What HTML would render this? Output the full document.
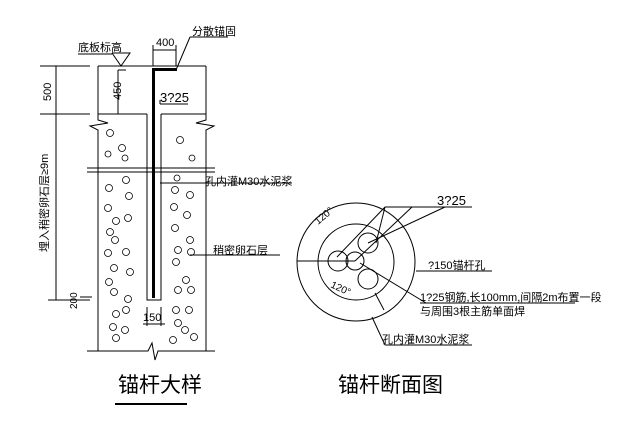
<!DOCTYPE html>
<html><head><meta charset="utf-8"><style>
html,body{margin:0;padding:0;background:#fff;}
svg{display:block;}
text{font-family:"Liberation Sans","Noto Sans CJK SC",sans-serif;fill:#000;}
</style></head><body>
<svg width="628" height="425" viewBox="0 0 628 425" xmlns="http://www.w3.org/2000/svg">
<g stroke="#000" stroke-width="1" fill="none">
<!-- slab -->
<line x1="98" y1="66" x2="206" y2="66"/>
<line x1="98" y1="66" x2="98" y2="114"/>
<line x1="206" y1="66" x2="206" y2="114"/>
<line x1="98" y1="114" x2="147" y2="114"/>
<line x1="161" y1="114" x2="206" y2="114"/>
<!-- pile walls with zigzag -->
<polyline points="98,351 98,130 90,126 108,123 98,120 98,114"/>
<polyline points="206,351 206,130 214,126 196,123 206,120 206,114"/>
<!-- ground lines -->
<line x1="87" y1="168" x2="215" y2="168"/>
<line x1="87" y1="172" x2="215" y2="172"/>
<!-- bottom break -->
<polyline points="87,351 148,351 152,343 155,360 158,351 215,351"/>
<!-- hole -->
<polyline points="147,114 147,300 161,300 161,114"/>
<!-- dims left -->
<line x1="56" y1="66" x2="56" y2="300"/>
<line x1="40" y1="66" x2="90" y2="66"/>
<line x1="40" y1="114" x2="90" y2="114"/>
<line x1="48" y1="300" x2="90" y2="300"/>
<line x1="118" y1="70" x2="118" y2="114"/>
<line x1="118" y1="70" x2="126" y2="70"/>
<polyline points="112,53 130,53 121,66 112,53"/>
<line x1="78" y1="54" x2="112" y2="54"/>
<line x1="153" y1="45" x2="153" y2="66"/>
<line x1="176" y1="45" x2="176" y2="66"/>
<line x1="153" y1="50" x2="176" y2="50"/>
<line x1="176" y1="70" x2="190" y2="37"/>
<line x1="190" y1="37" x2="228" y2="37"/>
<line x1="160" y1="104" x2="188" y2="104"/>
<line x1="160" y1="104" x2="160" y2="100"/>
<line x1="160" y1="183" x2="292" y2="183"/>
<line x1="190" y1="255" x2="280" y2="255"/>
<line x1="147" y1="307" x2="147" y2="326"/>
<line x1="161" y1="307" x2="161" y2="326"/>
<line x1="143" y1="324" x2="165" y2="324"/>
<line x1="80" y1="297" x2="92" y2="297"/>
<!-- aggregates -->
<g stroke-width="0.8">
<circle cx="110" cy="133" r="3.5"/><circle cx="122" cy="148" r="3.5"/><circle cx="108" cy="154" r="3"/><circle cx="125" cy="158" r="3"/>
<circle cx="180" cy="140" r="3.5"/><circle cx="192" cy="158" r="3"/><circle cx="177" cy="178" r="3"/>
<circle cx="126" cy="180" r="3.5"/><circle cx="109" cy="188" r="3.5"/><circle cx="129" cy="196" r="3.5"/><circle cx="108" cy="208" r="3.5"/>
<circle cx="116" cy="221" r="3.5"/><circle cx="110" cy="232" r="3.5"/><circle cx="115" cy="240" r="3.5"/><circle cx="128" cy="218" r="3.5"/>
<circle cx="108" cy="253" r="3.5"/><circle cx="126" cy="252" r="3.5"/><circle cx="114" cy="268" r="3.5"/><circle cx="130" cy="272" r="3.5"/>
<circle cx="109" cy="282" r="3.5"/><circle cx="114" cy="292" r="3.5"/><circle cx="128" cy="299" r="3.5"/>
<circle cx="116" cy="314" r="3.5"/><circle cx="126" cy="310" r="3.5"/><circle cx="113" cy="327" r="3.5"/><circle cx="125" cy="330" r="3.5"/><circle cx="116" cy="338" r="3.5"/>
<circle cx="175" cy="190" r="3.5"/><circle cx="190" cy="195" r="3.5"/><circle cx="174" cy="207" r="3.5"/><circle cx="187" cy="215" r="3.5"/>
<circle cx="175" cy="228" r="3.5"/><circle cx="190" cy="240" r="3.5"/><circle cx="178" cy="250" r="3.5"/><circle cx="191" cy="252" r="3.5"/>
<circle cx="176" cy="262" r="3.5"/><circle cx="186" cy="280" r="3.5"/><circle cx="178" cy="290" r="3.5"/><circle cx="191" cy="290" r="3.5"/>
<circle cx="176" cy="310" r="3.5"/><circle cx="189" cy="310" r="3.5"/><circle cx="178" cy="323" r="3.5"/><circle cx="185" cy="330" r="3.5"/><circle cx="194" cy="337" r="3.5"/><circle cx="173" cy="340" r="3.5"/>
</g>
<!-- right section -->
<circle cx="356" cy="262" r="59"/>
<circle cx="356" cy="262" r="38"/>
<circle cx="338" cy="261" r="10"/>
<circle cx="355" cy="261" r="9"/>
<circle cx="368" cy="243" r="10"/>
<circle cx="368" cy="279" r="10"/>
<line x1="297" y1="261" x2="355" y2="261"/>
<line x1="337" y1="257" x2="385" y2="207"/>
<line x1="355" y1="261" x2="412" y2="207"/>
<line x1="368" y1="243" x2="445" y2="207"/>
<line x1="385" y1="207" x2="472" y2="207"/>
<line x1="385" y1="207" x2="376" y2="243"/>
<line x1="375" y1="293" x2="384" y2="310"/>
<line x1="360" y1="263" x2="426" y2="303"/>
<line x1="416" y1="271" x2="492" y2="271"/>
<line x1="420" y1="303" x2="575" y2="303"/>
<line x1="372" y1="317" x2="385" y2="345"/>
<line x1="385" y1="345" x2="472" y2="345"/>
</g>
<rect x="152" y="68" width="3" height="230" fill="#000"/>
<rect x="152" y="68" width="25" height="3" fill="#000"/>
<rect x="115" y="403" width="72" height="2" fill="#000"/>
<g font-size="11">
<text x="78" y="51">底板标高</text>
<text x="156" y="46">400</text>
<text x="192" y="35">分散锚固</text>
<text x="160" y="102" font-size="13">3?25</text>
<text x="205" y="185">孔内灌M30水泥浆</text>
<text x="213" y="254">稍密卵石层</text>
<text x="143" y="321">150</text>
<text transform="translate(51,101) rotate(-90)">500</text>
<text transform="translate(121,100) rotate(-90)">450</text>
<text transform="translate(77,309) rotate(-90)" font-size="10">200</text>
<text transform="translate(48,252) rotate(-90)">埋入稍密卵石层≥9m</text>
<text x="437" y="205" font-size="13">3?25</text>
<text x="428" y="269">?150锚杆孔</text>
<text x="420" y="301">1?25钢筋,长100mm,间隔2m布置一段</text>
<text x="420" y="315">与周围3根主筋单面焊</text>
<text x="382" y="343">孔内灌M30水泥浆</text>
<text transform="translate(318,225) rotate(-40)" font-size="10">120°</text>
<text transform="translate(330,287) rotate(25)" font-size="10">120°</text>
</g>
<text x="118" y="392" font-size="21">锚杆大样</text>
<text x="338" y="392" font-size="21">锚杆断面图</text>
</svg>
</body></html>
